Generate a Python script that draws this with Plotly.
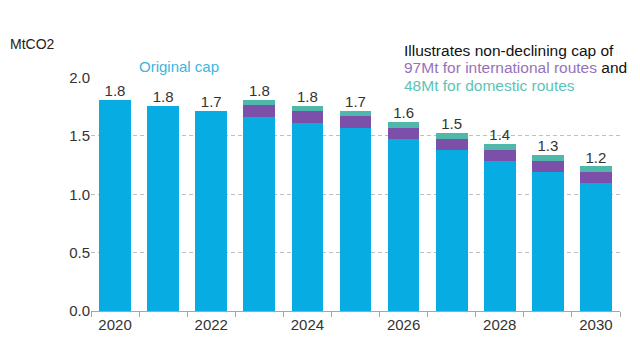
import plotly.graph_objects as go

years = [2020, 2021, 2022, 2023, 2024, 2025, 2026, 2027, 2028, 2029, 2030]
original_cap = [1.81, 1.76, 1.715, 1.665, 1.615, 1.57, 1.475, 1.38, 1.285, 1.19, 1.095]
international = [0, 0, 0, 0.097, 0.097, 0.097, 0.097, 0.097, 0.097, 0.097, 0.097]
domestic = [0, 0, 0, 0.048, 0.048, 0.048, 0.048, 0.048, 0.048, 0.048, 0.048]
total_labels = ["1.8", "1.8", "1.7", "1.8", "1.8", "1.7", "1.6", "1.5", "1.4", "1.3", "1.2"]
x_tick_labels = [2020, 2022, 2024, 2026, 2028, 2030]
y_ticks = [0.0, 0.5, 1.0, 1.5, 2.0]

BLUE = "#06ACE2"
PURPLE = "#7C4FA8"
TEAL = "#50B8AA"
FONT = "Liberation Sans, Arial, sans-serif"

totals = [a + b + c for a, b, c in zip(original_cap, international, domestic)]

fig = go.Figure()
fig.add_trace(go.Bar(x=years, y=original_cap, marker_color=BLUE, width=0.66, marker_line_width=0))
fig.add_trace(go.Bar(x=years, y=international, marker_color=PURPLE, width=0.66, marker_line_width=0))
fig.add_trace(go.Bar(x=years, y=domestic, marker_color=TEAL, width=0.66, marker_line_width=0))
fig.add_trace(go.Scatter(x=years, y=totals, mode="text", text=total_labels,
                         textposition="top center",
                         textfont=dict(family=FONT, size=15, color="#333333")))

line1 = "Illustrates non-declining cap of"
line2 = "<span style='color:#9672BA'>97Mt for international routes</span> and"
line3 = "<span style='color:#5CC4B5'>48Mt for domestic routes</span>"

fig.update_layout(
    barmode="stack",
    showlegend=False,
    width=624, height=342,
    margin=dict(l=83, r=12, t=69, b=39),
    paper_bgcolor="white", plot_bgcolor="white",
    font=dict(family=FONT, size=15, color="#333333"),
    xaxis=dict(
        range=[2019.5, 2030.5],
        tickvals=x_tick_labels,
        ticks="",
        showline=True, linecolor="#A6A6A6", linewidth=1,
        showgrid=False, zeroline=False,
        tickfont=dict(size=15, color="#333333"),
        minor=dict(tickmode="linear", tick0=2019.5, dtick=1, ticks="outside",
                   ticklen=5, tickcolor="#A6A6A6", showgrid=False),
    ),
    yaxis=dict(
        range=[0, 2.005],
        tickvals=y_ticks,
        tickformat=".1f",
        showgrid=True, gridcolor="#BFBFBF", griddash="4px,3px", gridwidth=1,
        zeroline=False, showline=False,
        ticks="", ticklen=0,
        tickfont=dict(size=15, color="#333333"),
    ),
    annotations=[
        dict(text="MtCO2", xref="paper", yref="paper", x=-0.157, y=1.141,
             xanchor="left", yanchor="middle", showarrow=False,
             font=dict(size=14, color="#222222")),
        dict(text="Original cap", xref="x", yref="paper", x=2021.33, y=1.043,
             xanchor="center", yanchor="middle", showarrow=False,
             font=dict(size=15, color="#40B4DE")),
        dict(text=line1, xref="paper", yref="paper", x=0.587, y=(303 - 43) / 234,
             xanchor="left", yanchor="middle", showarrow=False,
             font=dict(size=15.5, color="#111111")),
        dict(text=line2, xref="paper", yref="paper", x=0.587, y=(303 - 60) / 234,
             xanchor="left", yanchor="middle", showarrow=False,
             font=dict(size=15.5, color="#111111")),
        dict(text=line3, xref="paper", yref="paper", x=0.587, y=(303 - 77) / 234,
             xanchor="left", yanchor="middle", showarrow=False,
             font=dict(size=15.5, color="#111111")),
    ],
)

fig.write_html("out.html")
